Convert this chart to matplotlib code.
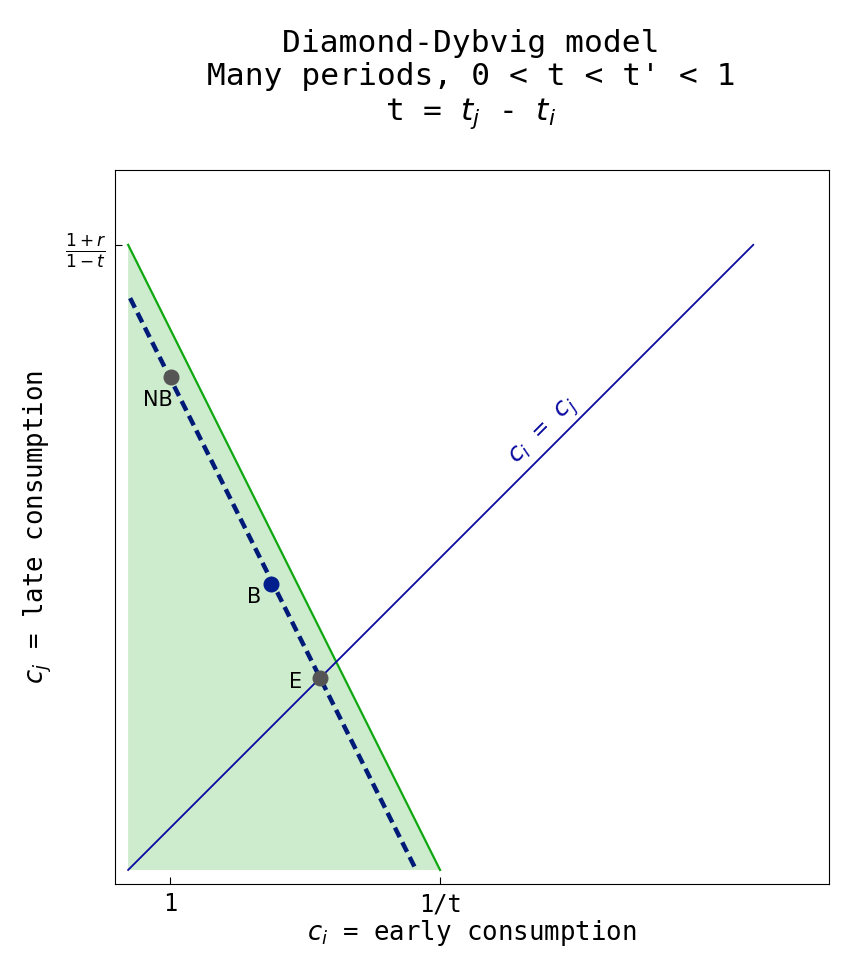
import matplotlib
matplotlib.use('Agg')
import matplotlib.pyplot as plt
import numpy as np

plt.rcParams['font.family'] = ['DejaVu Sans Mono', 'DejaVu Sans']
plt.rcParams['mathtext.fontset'] = 'dejavusans'

# model values
t = 0.4
inv_t = 1 / t
c_lo = 0.767                 # lower corner of the drawn region
y_top = 4.24                 # (1+r)/(1-t)

budget_x = [c_lo, inv_t]     # green budget line
budget_y = [y_top, c_lo]
dashed_x = [0.778, 2.367]    # dashed line through the equilibria
dashed_y = [3.944, c_lo]
diag_x = [c_lo, y_top]       # c_i = c_j
diag_y = [c_lo, y_top]

point_names = ['NB', 'B', 'E']
point_x = [1.006, 1.561, 1.833]
point_y = [3.506, 2.356, 1.833]
point_colors = ['#555555', '#001f8c', '#555555']

x_ticks = [1, inv_t]
x_ticklabels = ['1', '1/t']
y_ticks = [y_top]
y_ticklabels = [r'$\frac{1+r}{1-t}$']

fig = plt.figure(figsize=(8.64, 9.74), dpi=100)
ax = fig.add_axes([0.1331, 0.0924, 0.8264, 0.7331])

ax.fill([c_lo, c_lo, inv_t], [c_lo, y_top, c_lo], color='#cdebcd', lw=0, zorder=1)
ax.plot(budget_x, budget_y, color='#10a810', lw=1.6, zorder=2)
ax.plot(diag_x, diag_y, color='#0a0aa0', lw=1.3, zorder=2)
ax.plot(dashed_x, dashed_y, color='#001a78', lw=3.2, dashes=(2.4, 1.3), zorder=3)

for name, px, py, col in zip(point_names, point_x, point_y, point_colors):
    ax.plot(px, py, 'o', color=col, ms=10.5, zorder=4)

ax.text(0.93, 3.38, 'NB', family='DejaVu Sans', fontsize=15, ha='center', va='center')
ax.text(1.465, 2.285, 'B', family='DejaVu Sans', fontsize=15, ha='center', va='center')
ax.text(1.695, 1.81, 'E', family='DejaVu Sans', fontsize=15, ha='center', va='center')
ax.text(3.083, 3.20, r'$c_i$ = $c_j$', color='#0a0aa0', fontsize=18,
        rotation=45, ha='center', va='center', rotation_mode='anchor')

ax.set_xlim(0.694, 4.661)
ax.set_ylim(0.689, 4.656)

ax.set_xticks(x_ticks)
ax.set_xticklabels(x_ticklabels, fontsize=17)
ax.set_yticks(y_ticks)
ax.set_yticklabels(y_ticklabels, fontsize=17.5)
ax.tick_params(direction='in', length=5, width=0.8, pad=6)

for s in ax.spines.values():
    s.set_linewidth(0.8)

ax.set_xlabel(r'$c_i$ = early consumption', fontsize=18.5, labelpad=1)
ax.set_ylabel(r'$c_j$ = late consumption', fontsize=18.5, labelpad=8)

fig.text(0.545, 0.918, 'Diamond-Dybvig model\nMany periods, 0 < t < t\' < 1\n' + r't = $t_j$ - $t_i$',
         ha='center', va='center', fontsize=22.5, linespacing=1.2)

fig.savefig('out.png', dpi=100)
